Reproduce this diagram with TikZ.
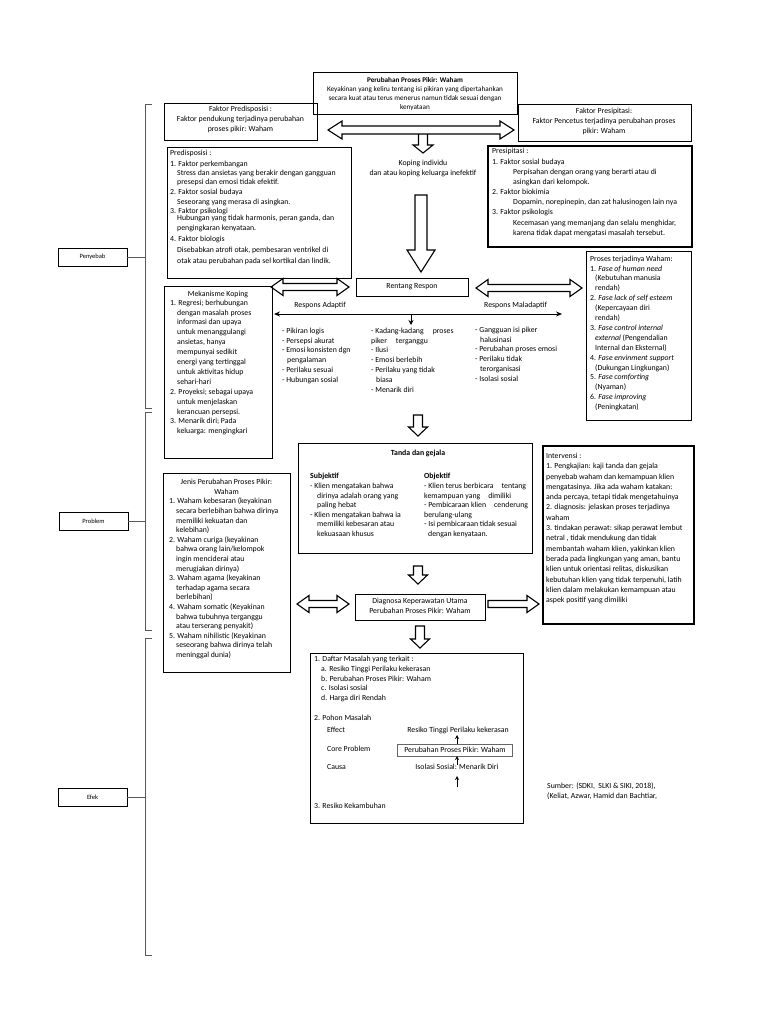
\documentclass[tikz,border=0pt]{standalone}
\usepackage{fontspec}
\setmainfont{Carlito}
\usetikzlibrary{arrows.meta}
\newcommand{\fsmain}{\fontsize{7.8}{9.6}\selectfont}
\newcommand{\fstitle}{\fontsize{7.2}{9}\selectfont}
\newcommand{\fslist}{\fontsize{7.8}{9.9}\selectfont}
\newcommand{\fsint}{\fontsize{7.8}{10.3}\selectfont}
\newcommand{\fslbl}{\fontsize{6.5}{8}\selectfont}
\newcommand{\hdbl}[6]{%
  \draw[blk] ({#1},{#3}) -- ({#1+#6},{#3-#4}) -- ({#1+#6},{#3-#5}) -- ({#2-#6},{#3-#5}) -- ({#2-#6},{#3-#4}) -- ({#2},{#3}) -- ({#2-#6},{#3+#4}) -- ({#2-#6},{#3+#5}) -- ({#1+#6},{#3+#5}) -- ({#1+#6},{#3+#4}) -- cycle;}
\newcommand{\hrgt}[6]{%
  \draw[blk] ({#1},{#3-#5}) -- ({#2-#6},{#3-#5}) -- ({#2-#6},{#3-#4}) -- ({#2},{#3}) -- ({#2-#6},{#3+#4}) -- ({#2-#6},{#3+#5}) -- ({#1},{#3+#5}) -- cycle;}
\newcommand{\hdown}[6]{%
  \draw[blk] ({#1-#5},{#2}) -- ({#1-#5},{#3-#6}) -- ({#1-#4},{#3-#6}) -- ({#1},{#3}) -- ({#1+#4},{#3-#6}) -- ({#1+#5},{#3-#6}) -- ({#1+#5},{#2}) -- cycle;}
\begin{document}
\begin{tikzpicture}[x=1pt,y=-1pt]
\tikzset{
  bx/.style={draw, line width=0.9pt, anchor=north west, inner sep=0pt},
  tx/.style={anchor=north west, align=left, inner sep=0pt, font=\fsmain},
  tc/.style={anchor=north, align=center, inner sep=0pt, font=\fsmain},
  blk/.style={draw, line width=1.1pt, fill=white, line join=miter},
  lbl/.style={draw, line width=0.8pt, minimum width=69pt, minimum height=18pt, inner sep=0pt, font=\fslbl},
  brk/.style={draw=black!65, line width=0.7pt},
  thin/.style={draw, line width=0.7pt, -{Stealth[length=4pt,width=4pt]}},
  shadowedge/.style={draw, line width=1.4pt},
}
\useasboundingbox[fill=white] (0,0) rectangle (768,1024);

% ---------- title ----------
\node[bx, line width=1.2pt, minimum width=204pt, minimum height=42pt] (title) at (313,72) {};
\node[tc, font=\fstitle] (titletxt) at (415,76) {\strut\textbf{Perubahan Proses Pikir: Waham}\\Keyakinan yang keliru tentang isi pikiran yang dipertahankan\\secara kuat atau terus menerus namun tidak sesuai dengan\\kenyataan};

% ---------- faktor boxes ----------
\node[bx, minimum width=153pt, minimum height=37pt] (fpred) at (164,103) {};
\node[tc] (fpredtxt) at (240.5,105) {\strut Faktor Predisposisi :\\Faktor pendukung terjadinya perubahan\\proses pikir: Waham};
\node[bx, minimum width=173pt, minimum height=37pt] (fpres) at (518,104) {};
\node[tc] (fprestxt) at (604,107) {\strut Faktor Presipitasi:\\Faktor Pencetus terjadinya perubahan proses\\pikir: Waham};

% arrows top
\hdown{423}{131}{153}{10}{4.5}{8}
\hdbl{328}{514}{130}{9}{4}{14}

\node[tc] (koping) at (423,159) {\strut Koping individu\\dan atau koping keluarga inefektif};
\hdown{421}{195}{272}{14}{6}{22}

% ---------- predisposisi ----------
\node[bx, minimum width=184pt, minimum height=131pt] (pred) at (167,147) {};
\node[tx] (predtxt) at (170,149) {\strut Predisposisi :\\[1.4pt]
1. Faktor perkembangan\\[-0.6pt]
\hspace*{7pt}Stress dan ansietas yang berakir dengan gangguan\\[-0.6pt]
\hspace*{7pt}presepsi dan emosi tidak efektif.\\[0.4pt]
2. Faktor sosial budaya\\[0.4pt]
\hspace*{7pt}Seseorang yang merasa di asingkan.\\[-0.6pt]
3. Faktor psikologi\\[-2.6pt]
\hspace*{7pt}Hubungan yang tidak harmonis, peran ganda, dan\\[0.4pt]
\hspace*{7pt}pengingkaran kenyataan.\\[1.4pt]
4. Faktor biologis\\[1.4pt]
\hspace*{7pt}Disebabkan atrofi otak, pembesaran ventrikel di\\[1.4pt]
\hspace*{7pt}otak atau perubahan pada sel kortikal dan lindik.};

% ---------- presipitasi ----------
\node[bx, line width=1.6pt, minimum width=204pt, minimum height=101pt] (pres) at (487,145) {};
\node[tx] (prestxt) at (492,147) {\strut Presipitasi :\\[1.4pt]
1. Faktor sosial budaya\\[0.4pt]
\hspace*{21pt}Perpisahan dengan orang yang berarti atau di\\[0.4pt]
\hspace*{21pt}asingkan dari kelompok.\\[0.4pt]
2. Faktor biokimia\\[0.4pt]
\hspace*{21pt}Dopamin, norepinepin, dan zat halusinogen lain nya\\[0.4pt]
3. Faktor psikologis\\[1.4pt]
\hspace*{21pt}Kecemasan yang memanjang dan selalu menghidar,\\[0.4pt]
\hspace*{21pt}karena tidak dapat mengatasi masalah tersebut.};

% ---------- rentang respon ----------
\node[bx, minimum width=112pt, minimum height=18pt] (rentang) at (356,278) {};
\node[tc] (rentangtxt) at (412,282) {\strut Rentang Respon};
\hdbl{271}{349}{287}{8.5}{3.5}{12}
\hdbl{476}{582}{288}{8.5}{3.5}{12}

\coordinate (rl) at (274,314);
\coordinate (rr) at (562,314);
\coordinate (rm) at (411,314);
\coordinate (rmd) at (411,325);
\draw[line width=0.8pt, {Stealth[length=6pt,width=5pt]}-{Stealth[length=6pt,width=5pt]}] (rl) -- (rr);
\draw[line width=0.8pt, -{Stealth[length=5pt,width=5pt]}] (rm) -- (rmd);
\node[tc] (adaptif) at (320,301) {\strut Respons Adaptif};
\node[tx] (maladaptif) at (484,301) {\strut Respons Maladaptif};

\node[tx, font=\fslist] (col1) at (282,326) {\strut - Pikiran logis\\- Persepsi akurat\\- Emosi konsisten dgn\\\hspace*{5pt}pengalaman\\- Perilaku sesuai\\- Hubungan sosial};
\node[tx, font=\fslist] (col2) at (371,326) {\strut - Kadang-kadang\hspace{9pt}proses\\piker\hspace{9pt}terganggu\\- Ilusi\\- Emosi berlebih\\- Perilaku yang tidak\\\hspace*{5pt}biasa\\- Menarik diri};
\node[tx, font=\fslist] (col3) at (475,325) {\strut - Gangguan isi piker\\\hspace*{5pt}halusinasi\\- Perubahan proses emosi\\- Perilaku tidak\\\hspace*{5pt}terorganisasi\\- Isolasi sosial};

% ---------- mekanisme koping ----------
\node[bx, minimum width=108pt, minimum height=172pt] (meka) at (164,286) {};
\node[tc] (mekatitle) at (218,290) {\strut Mekanisme Koping};
\node[tx, font=\fslist] (mekatxt) at (170,298) {\strut 1. Regresi; berhubungan\\
\hspace*{7pt}dengan masalah proses\\
\hspace*{7pt}informasi dan upaya\\
\hspace*{7pt}untuk menanggulangi\\
\hspace*{7pt}ansietas, hanya\\
\hspace*{7pt}mempunyai sedikit\\
\hspace*{7pt}energi yang tertinggal\\
\hspace*{7pt}untuk aktivitas hidup\\
\hspace*{7pt}sehari-hari\\
2. Proyeksi; sebagai upaya\\
\hspace*{7pt}untuk menjelaskan\\
\hspace*{7pt}kerancuan persepsi.\\
3. Menarik diri; Pada\\
\hspace*{7pt}keluarga: mengingkari};

% ---------- proses terjadinya waham ----------
\node[bx, minimum width=105pt, minimum height=169pt] (proses) at (586,251) {};
\node[tx, font=\fslist] (prosestxt) at (590,254) {\strut Proses terjadinya Waham:\\
1. \textit{Fase of human need}\\
\hspace*{5pt}(Kebutuhan manusia\\
\hspace*{5pt}rendah)\\
2. \textit{Fase lack of self esteem}\\
\hspace*{5pt}(Kepercayaan diri\\
\hspace*{5pt}rendah)\\
3. \textit{Fase control internal}\\
\hspace*{5pt}\textit{external} (Pengendalian\\
\hspace*{5pt}Internal dan Eksternal)\\
4. \textit{Fase envinment support}\\
\hspace*{5pt}(Dukungan Lingkungan)\\
5. \textit{Fase comforting}\\
\hspace*{5pt}(Nyaman)\\
6. \textit{Fase improving}\\
\hspace*{5pt}(Peningkatan)};

% ---------- tanda dan gejala ----------
\hdown{418}{415}{436}{9.5}{4.5}{9}
\node[bx, line width=1.2pt, minimum width=234pt, minimum height=110pt] (tanda) at (298,443) {};
\node[tc] (tandatitle) at (418,449) {\strut\textbf{Tanda dan gejala}};
\node[tx] (subj) at (310,472) {\strut\textbf{Subjektif}\\
- Klien mengatakan bahwa\\
\hspace*{7pt}dirinya adalah orang yang\\
\hspace*{7pt}paling hebat\\
- Klien mengatakan bahwa ia\\
\hspace*{7pt}memiliki kebesaran atau\\
\hspace*{7pt}kekuasaan khusus};
\node[tx] (obj) at (424,472) {\strut\textbf{Objektif}\\
- Klien terus berbicara\hspace{8pt}tentang\\
kemampuan yang\hspace{8pt}dimiliki\\
- Pembicaraan klien\hspace{8pt}cenderung\\
berulang-ulang\\
- Isi pembicaraan tidak sesuai\\
\hspace*{4pt}dengan kenyataan.};

% ---------- diagnosa ----------
\hdown{418}{566}{584}{9.5}{4.5}{9}
\node[bx, minimum width=130pt, minimum height=26pt] (diag) at (355,594) {};
\node[tc] (diagtxt) at (420,597) {\strut Diagnosa Keperawatan Utama\\Perubahan Proses Pikir: Waham};
\hdbl{297}{349}{604}{8.5}{3.5}{12}
\hrgt{488}{539}{604}{8.5}{3.5}{12}
\hdown{420}{626}{648}{9.5}{4.5}{9}

% ---------- intervensi ----------
\node[bx, line width=1.6pt, minimum width=151pt, minimum height=178pt] (interv) at (542,445) {};
\node[tx, font=\fsint] (intervtxt) at (546,451) {\strut Intervensi :\\
1. Pengkajian: kaji tanda dan gejala\\
penyebab waham dan kemampuan klien\\
mengatasinya. Jika ada waham katakan:\\
anda percaya, tetapi tidak mengetahuinya\\
2. diagnosis: jelaskan proses terjadinya\\
waham\\
3. tindakan perawat: sikap perawat lembut\\
netral , tidak mendukung dan tidak\\
membantah waham klien, yakinkan klien\\
berada pada lingkungan yang aman, bantu\\
klien untuk orientasi relitas, diskusikan\\
kebutuhan klien yang tidak terpenuhi, latih\\
klien dalam melakukan kemampuan atau\\
aspek positif yang dimiliki};

% ---------- jenis perubahan ----------
\node[bx, minimum width=127pt, minimum height=199pt] (jenis) at (163,473) {};
\node[tc] (jenistitle) at (226.5,478) {\strut Jenis Perubahan Proses Pikir:\\Waham};
\node[tx] (jenistxt) at (169,497) {\strut 1. Waham kebesaran (keyakinan\\
\hspace*{7pt}secara berlebihan bahwa dirinya\\
\hspace*{7pt}memiliki kekuatan dan\\
\hspace*{7pt}kelebihan)\\
2. Waham curiga (keyakinan\\
\hspace*{7pt}bahwa orang lain/kelompok\\
\hspace*{7pt}ingin menciderai atau\\
\hspace*{7pt}merugiakan dirinya)\\
3. Waham agama (keyakinan\\
\hspace*{7pt}terhadap agama secara\\
\hspace*{7pt}berlebihan)\\
4. Waham somatic (Keyakinan\\
\hspace*{7pt}bahwa tubuhnya terganggu\\
\hspace*{7pt}atau terserang penyakit)\\
5. Waham nihilistic (Keyakinan\\
\hspace*{7pt}seseorang bahwa dirinya telah\\
\hspace*{7pt}meninggal dunia)};

% ---------- daftar masalah ----------
\node[bx, line width=1.2pt, minimum width=213pt, minimum height=170pt] (daftar) at (310,653) {};
\node[tx] (daftartxt) at (314,655) {\strut 1. Daftar Masalah yang terkait :\\
\hspace*{7pt}a. Resiko Tinggi Perilaku kekerasan\\
\hspace*{7pt}b. Perubahan Proses Pikir: Waham\\
\hspace*{7pt}c. Isolasi sosial\\
\hspace*{7pt}d. Harga diri Rendah};
\node[tx] (pohon) at (314,714) {\strut 2. Pohon Masalah};
\node[tx] (effect) at (327,726) {\strut Effect};
\node[tx] (corep) at (327,745) {\strut Core Problem};
\node[tx] (causa) at (327,763) {\strut Causa};
\node[tc] (efftxt) at (458,726) {\strut Resiko Tinggi Perilaku kekerasan};
\node[draw=black!60, line width=0.6pt, minimum width=115pt, minimum height=12pt, inner sep=0pt, font=\fsmain] (coretxt) at (455,750) {Perubahan Proses Pikir: Waham};
\node[tc] (causatxt) at (457,763) {\strut Isolasi Sosial: Menarik Diri};
\coordinate (c1) at (457,744);
\coordinate (c0) at (457,735);
\coordinate (c3) at (457,765);
\coordinate (c2) at (457,756);
\coordinate (c5) at (457,787);
\coordinate (c4) at (457,776);
\draw[thin] (c1) -- (c0);
\draw[thin] (c3) -- (c2);
\draw[thin] (c5) -- (c4);
\node[tx] (kambuh) at (314,802) {\strut 3. Resiko Kekambuhan};

% ---------- sumber ----------
\node[tx] (sumber) at (547,782) {\strut Sumber: (SDKI,\ \ SLKI \& SIKI, 2018),\\(Keliat, Azwar, Hamid dan Bachtiar,};

% ---------- left labels and brackets ----------
\node[lbl] (peny) at (92.5,257) {Penyebab};
\node[lbl] (prob) at (93.5,521) {Problem};
\node[lbl] (efek) at (92.5,797) {Efek};
\draw[shadowedge] (peny.north east) -- (peny.south east) -- (peny.south west);
\draw[shadowedge] (prob.north east) -- (prob.south east) -- (prob.south west);
\draw[shadowedge] (efek.north east) -- (efek.south east) -- (efek.south west);
\draw[brk] (152,104) -- (145,104) -- (145,408) -- (152,408);
\draw[brk] (peny.east) -- (145,257);
\draw[brk] (152,412) -- (145,412) -- (145,630) -- (152,630);
\draw[brk] (prob.east) -- (145,521);
\draw[brk] (152,638) -- (145,638) -- (145,955) -- (152,955);
\draw[brk] (efek.east) -- (145,797);
\end{tikzpicture}
\end{document}
